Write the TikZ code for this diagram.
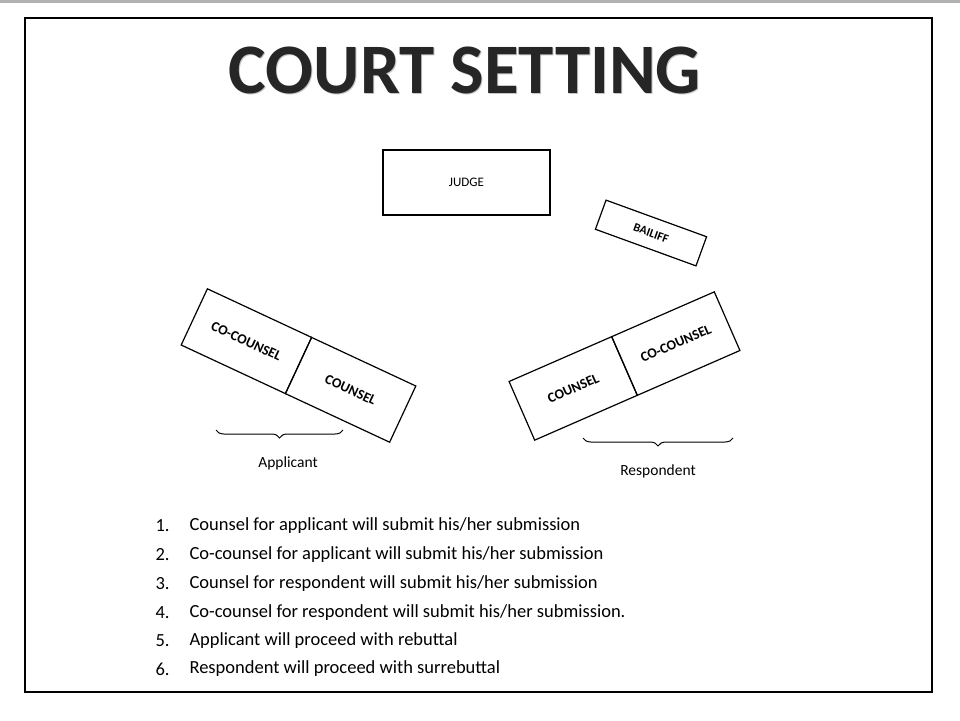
\documentclass[tikz,border=0pt]{standalone}
\usepackage{fontspec}
\setmainfont{Carlito}
\usetikzlibrary{decorations.pathreplacing}
\begin{document}
\begin{tikzpicture}[x=1pt,y=-1pt,
  box/.style={draw,line width=1.2pt,minimum width=#1,inner sep=0pt,font=\fontsize{13}{14}\selectfont},
  cell/.style={draw,line width=1.2pt,inner sep=0pt,font=\bfseries\fontsize{14}{15}\selectfont},
  lbl/.style={font=\fontsize{15.5}{17}\selectfont},
  item/.style={anchor=west,font=\fontsize{18.5}{20}\selectfont},
  brace/.style={decorate,decoration={brace,amplitude=8pt,mirror},line width=1pt}]
\useasboundingbox (0,0) rectangle (960,720);
\fill[gray!60] (0,0) rectangle (960,3);
\draw[line width=1.6pt] (25,18) rectangle (932,692);
\node[font=\bfseries\fontsize{71}{74}\selectfont,text=gray!45] (shadow) at (466,71.5) {COURT SETTING};
\node[font=\bfseries\fontsize{71}{74}\selectfont,text=black!85] (title) at (465,70) {COURT SETTING};
\node[box=167pt,minimum height=65pt] (judge) at (466.5,182.5) {JUDGE};
\node[box=107pt,minimum height=31pt,rotate=-20,font=\bfseries\fontsize{12}{13}\selectfont] (bailiff) at (651,233) {BAILIFF};
% applicant table
\node[cell,minimum width=115pt,minimum height=62pt,rotate=-25] (acoc) at (246.4,341.2) {CO-COUNSEL};
\node[cell,minimum width=115pt,minimum height=62pt,rotate=-25] (acou) at (350.6,389.8) {COUNSEL};
% respondent table
\node[cell,minimum width=112pt,minimum height=64pt,rotate=23.6] (rcou) at (573.2,388.4) {COUNSEL};
\node[cell,minimum width=112pt,minimum height=64pt,rotate=23.6] (rcoc) at (675.8,343.6) {CO-COUNSEL};
\coordinate (a1) at (216,430); \coordinate (a2) at (343,430);
\coordinate (r1) at (583,438); \coordinate (r2) at (733,438);
\draw[brace] (a1) -- (a2);
\draw[brace] (r1) -- (r2);
\node[lbl] (app) at (288,463) {Applicant};
\node[lbl] (resp) at (658,471) {Respondent};
\foreach \n/\y/\t in {1/526/{Counsel for applicant will submit his/her submission},
  2/555/{Co-counsel for applicant will submit his/her submission},
  3/584/{Counsel for respondent will submit his/her submission},
  4/613/{Co-counsel for respondent will submit his/her submission.},
  5/641/{Applicant will proceed with rebuttal},
  6/669/{Respondent will proceed with surrebuttal}}{
  \node[item] (n\n) at (152,\y) {\n.};
  \node[item] (t\n) at (186,\y) {\t};
}
\end{tikzpicture}
\end{document}
